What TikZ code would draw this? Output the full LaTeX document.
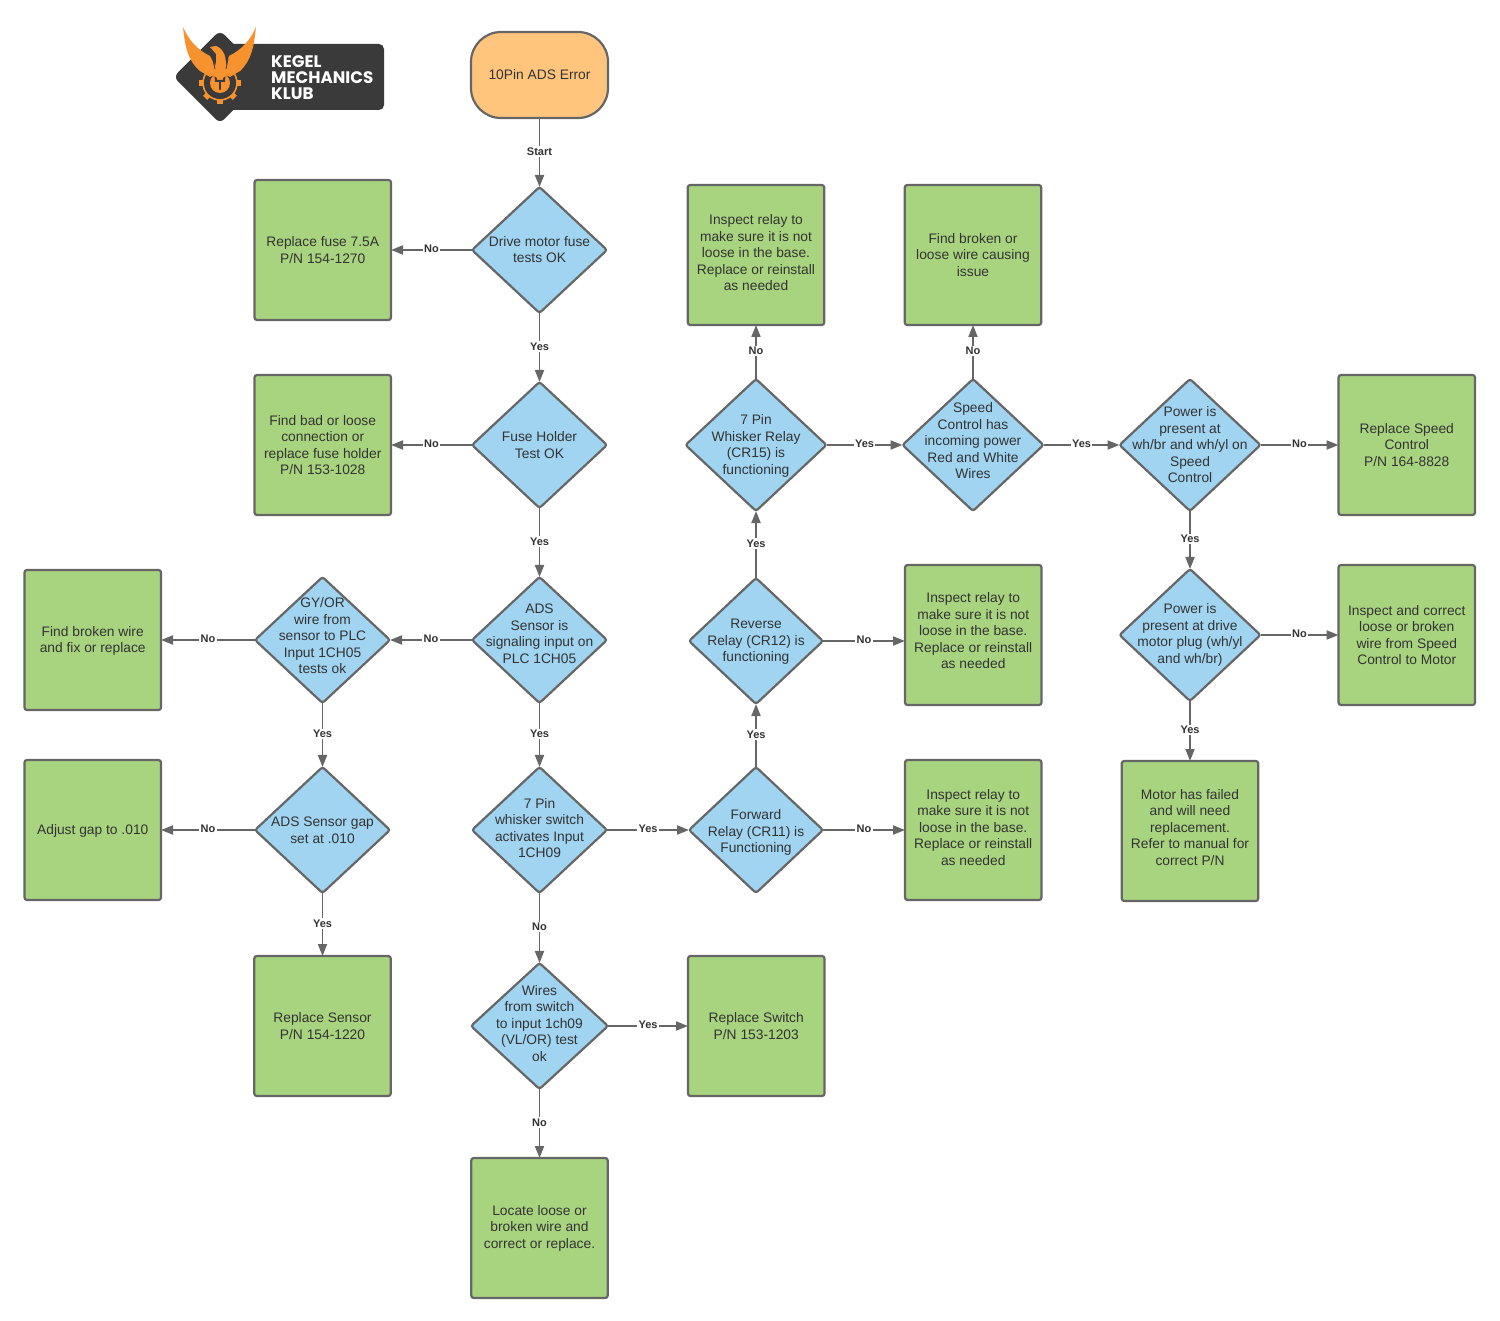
\documentclass[tikz,border=0pt]{standalone}
\usepackage{fontspec}
\setmainfont{Liberation Sans}
\newfontfamily\logofont{Poppins}
\usetikzlibrary{positioning,arrows.meta,shapes.geometric}
\definecolor{boxgreen}{HTML}{A8D47F}
\definecolor{decblue}{HTML}{A0D4F1}
\definecolor{termorange}{HTML}{FFC57C}
\definecolor{edgegray}{HTML}{666666}
\definecolor{inkgray}{HTML}{333333}
\definecolor{logodark}{HTML}{3A3A3A}
\definecolor{logoorange}{HTML}{F7932E}

\begin{document}
\begin{tikzpicture}[
  x=1pt,y=-1pt,
  font=\fontsize{13.8}{16.5}\selectfont,
  text=inkgray,
  box/.style={rectangle,rounded corners=2.5pt,draw=edgegray,line width=2.2pt,fill=boxgreen,
              minimum width=136.5pt,minimum height=140pt,align=center,inner sep=2pt,outer sep=0pt},
  dec/.style={diamond,rounded corners=2.5pt,draw=edgegray,line width=2.2pt,fill=decblue,
              minimum width=135pt,minimum height=126pt,inner sep=0pt,outer sep=0pt,
              label distance=0pt},
  widedec/.style={dec,minimum width=141pt,minimum height=132pt},
  term/.style={rectangle,rounded corners=30pt,draw=edgegray,line width=2.2pt,fill=termorange,
               minimum width=137pt,minimum height=86pt,outer sep=0pt},
  every label/.style={align=center,inner sep=0pt,text=inkgray},
  arr/.style={-{Triangle[length=12pt,width=9pt]},line width=1.8pt,edgegray},
  lab/.style={fill=white,inner sep=1.5pt,yshift=1pt,font=\fontsize{11}{12}\selectfont\bfseries,text=inkgray},
  logotext/.style={font=\logofont\fontsize{16.7}{16}\selectfont\bfseries,text=white,align=left,
                   inner sep=0pt,anchor=west},
]
\useasboundingbox (0,0) rectangle (1500,1321);

\fill[logodark,rounded corners=5pt] (225,44) rectangle (384,110);
\fill[logodark,rounded corners=6pt] (220,30.5) -- (266.5,77) -- (220,123.5) -- (173.5,77) -- cycle;
\foreach \ang in {0,45,...,315}
  \fill[logoorange,rotate around={\ang:(220,83)}] (217,62) rectangle (223,68);
\draw[logoorange,line width=1.6pt,fill=logodark] (220,83) circle (17);
\fill[logoorange] (220,83) circle (10);
\draw[logodark,line width=2.6pt,line cap=round] (220,89) -- (220,81);
\draw[logodark,line width=2pt] (215.5,76) -- (216,81) -- (224,81) -- (224.5,76);
\fill[logoorange] (183,27) .. controls (185,45) and (187,60) .. (200,71)
  -- (210,77) -- (216,74) -- (214,64) -- (210,56) .. controls (198,50) and (189,41) .. cycle;
\fill[logoorange] (256,27) .. controls (254,45) and (252,60) .. (240,71)
  -- (230,77) -- (224,74) -- (226,66) -- (229,56) .. controls (241,50) and (250,41) .. cycle;
\fill[logoorange] (210,47) -- (216,46) .. controls (224,49) and (226,56) .. (226,66)
  -- (227,75) -- (220,80) -- (213,75) -- (216,62) -- (216,54) -- cycle;
\draw[logodark,line width=.8pt] (212.5,58) -- (215,69);
\draw[logodark,line width=.8pt] (228,59) -- (226,69);
\node[logotext] (kegel) at (271,61.5) {KEGEL};
\node[logotext] (mech) at (271,77.5) {MECHANICS};
\node[logotext] (klub) at (271,93.5) {KLUB};

\node[term] (start) at (539.5,75) {10Pin ADS Error};
\node[dec,below=69pt of start,label={[yshift=.5pt]center:Drive motor fuse\\tests OK}] (fuse) {};
\node[dec,below=69pt of fuse,label={center:Fuse Holder\\Test OK}] (holder) {};
\node[dec,below=69pt of holder,label={[yshift=6.5pt]center:ADS\\Sensor is\\signaling input on\\PLC 1CH05}] (ads) {};
\node[dec,below=64pt of ads,label={[yshift=2pt]center:7 Pin\\whisker switch\\activates Input\\1CH09}] (whisker) {};
\node[dec,below=70pt of whisker,minimum width=137pt,label={[yshift=2.5pt]center:Wires\\from switch\\to input 1ch09\\(VL/OR) test\\ok}] (wires) {};
\node[box,below=69pt of wires] (locate) {Locate loose or\\broken wire and\\correct or replace.};
\node[box,right=80pt of wires] (repswitch) {Replace Switch\\P/N 153-1203};

\node[box,left=81pt of fuse] (repfuse) {Replace fuse 7.5A\\P/N 154-1270};
\node[box,left=81pt of holder] (repholder) {Find bad or loose\\connection or\\replace fuse holder\\P/N 153-1028};
\node[dec,left=82pt of ads,label={[yshift=4pt]center:GY/OR\\wire from\\sensor to PLC\\Input 1CH05\\tests ok}] (gyor) {};
\node[box,left=94pt of gyor,label={[yshift=-1pt]center:Find broken wire\\and fix or replace}] (fixwire) {};
\node[dec,below=64pt of gyor,label={center:ADS Sensor gap\\set at .010}] (gap) {};
\node[box,left=94pt of gap,label={[yshift=-1pt]center:Adjust gap to .010}] (adjust) {};
\node[box,below=63pt of gap] (repsensor) {Replace Sensor\\P/N 154-1220};

\node[dec,right=82pt of whisker,minimum width=134pt,label={[yshift=-2.5pt]center:Forward\\Relay (CR11) is\\Functioning}] (forward) {};
\node[box,right=82pt of forward,label={[yshift=2.5pt]center:Inspect relay to\\make sure it is not\\loose in the base.\\Replace or reinstall\\as needed}] (fwdrelay) {};
\node[dec,above=63pt of forward,minimum width=134pt,label={[yshift=-1pt]center:Reverse\\Relay (CR12) is\\functioning}] (reverse) {};
\node[box,right=82pt of reverse,yshift=6pt,label={[yshift=4pt]center:Inspect relay to\\make sure it is not\\loose in the base.\\Replace or reinstall\\as needed}] (revrelay) {};
\node[widedec,above=67pt of reverse,label={[yshift=-1pt]center:7 Pin\\Whisker Relay\\(CR15) is\\functioning}] (wrelay) {};
\node[box,above=54pt of wrelay,label={[yshift=2pt]center:Inspect relay to\\make sure it is not\\loose in the base.\\Replace or reinstall\\as needed}] (wrelaybox) {};
\node[widedec,right=76pt of wrelay,label={[yshift=4pt]center:Speed\\Control has\\incoming power\\Red and White\\Wires}] (speed) {};
\node[box,above=54pt of speed] (brokenwire) {Find broken or\\loose wire causing\\issue};
\node[widedec,right=76pt of speed,label={center:Power is\\present at\\wh/br and wh/yl on\\Speed\\Control}] (power) {};
\node[box,right=78pt of power] (repspeed) {Replace Speed\\Control\\P/N 164-8828};
\node[widedec,below=58pt of power,label={center:Power is\\present at drive\\motor plug (wh/yl\\and wh/br)}] (plug) {};
\node[box,right=78pt of plug] (inspectwire) {Inspect and correct\\loose or broken\\wire from Speed\\Control to Motor};
\node[box,below=60pt of plug,label={[yshift=3.5pt]center:Motor has failed\\and will need\\replacement.\\Refer to manual for\\correct P/N}] (motor) {};

\draw[arr] (start) -- node[lab]{Start} (fuse);
\draw[arr] (fuse) -- node[lab]{No} (repfuse);
\draw[arr] (fuse) -- node[lab]{Yes} (holder);
\draw[arr] (holder) -- node[lab]{No} (repholder);
\draw[arr] (holder) -- node[lab]{Yes} (ads);
\draw[arr] (ads) -- node[lab]{No} (gyor);
\draw[arr] (ads) -- node[lab]{Yes} (whisker);
\draw[arr] (gyor) -- node[lab]{No} (fixwire);
\draw[arr] (gyor) -- node[lab]{Yes} (gap);
\draw[arr] (gap) -- node[lab]{No} (adjust);
\draw[arr] (gap) -- node[lab]{Yes} (repsensor);
\draw[arr] (whisker) -- node[lab]{No} (wires);
\draw[arr] (whisker) -- node[lab]{Yes} (forward);
\draw[arr] (wires) -- node[lab]{Yes} (repswitch);
\draw[arr] (wires) -- node[lab]{No} (locate);
\draw[arr] (forward) -- node[lab]{No} (fwdrelay);
\draw[arr] (forward) -- node[lab]{Yes} (reverse);
\draw[arr] (reverse) -- node[lab]{No} (reverse -| revrelay.west);
\draw[arr] (reverse) -- node[lab]{Yes} (wrelay);
\draw[arr] (wrelay) -- node[lab]{No} (wrelaybox);
\draw[arr] (wrelay) -- node[lab]{Yes} (speed);
\draw[arr] (speed) -- node[lab]{No} (brokenwire);
\draw[arr] (speed) -- node[lab]{Yes} (power);
\draw[arr] (power) -- node[lab]{No} (repspeed);
\draw[arr] (power) -- node[lab]{Yes} (plug);
\draw[arr] (plug) -- node[lab]{No} (inspectwire);
\draw[arr] (plug) -- node[lab]{Yes} (motor);
\end{tikzpicture}
\end{document}
